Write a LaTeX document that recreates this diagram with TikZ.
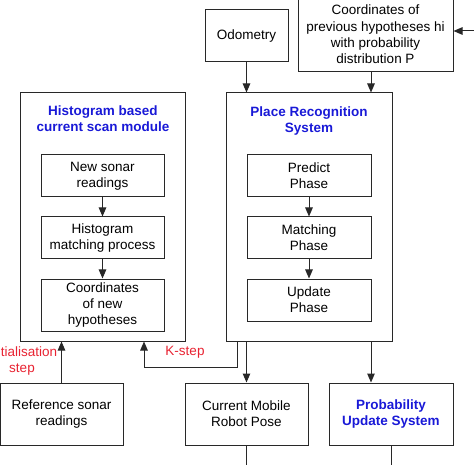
\documentclass[tikz,border=0pt]{standalone}
\usepackage{fontspec}
\setmainfont{Liberation Sans}
\usetikzlibrary{arrows.meta}
\definecolor{ttlblue}{RGB}{25,25,215}
\definecolor{lblred}{RGB}{232,35,50}
\definecolor{ln}{RGB}{40,40,40}
\tikzset{
  box/.style={draw=ln, line width=1pt, align=center, inner sep=0pt, font=\fontsize{13.5}{16.3}\selectfont},
  ttl/.style={align=center, text=ttlblue, font=\fontsize{13.5}{16.3}\selectfont\bfseries},
  lbl/.style={align=center, text=lblred, font=\fontsize{13.5}{16.3}\selectfont},
  arr/.style={draw=ln, line width=1pt, -{Triangle[length=9pt,width=7.5pt]}},
  ln/.style={draw=ln, line width=1pt}
}
\begin{document}
\begin{tikzpicture}[x=1pt,y=-1pt]
\useasboundingbox (0,0) rectangle (474,465);
\clip (0,0) rectangle (474,465);
% top
\node[box, minimum width=83pt, minimum height=52pt] (odo) at (246.5,36) {Odometry};
\node[box, minimum width=155pt, minimum height=75pt] (prev) at (375.5,34.5) {Coordinates of\\previous hypotheses hi\\with probability\\distribution P};
% histogram module
\node[box, minimum width=165pt, minimum height=248pt] (hist) at (102.5,217) {};
\node[ttl] (histttl) at (103,119) {Histogram based\\current scan module};
\node[box, minimum width=123pt, minimum height=42pt] (nsr) at (102.5,176) {New sonar\\readings};
\node[box, minimum width=123pt, minimum height=42pt] (hmp) at (102.5,238) {Histogram\\matching process};
\node[box, minimum width=123pt, minimum height=52pt] (cnh) at (102.5,305) {Coordinates\\of new\\hypotheses};
% place recognition
\node[box, minimum width=166pt, minimum height=248pt] (prs) at (309,217) {};
\node[ttl] (prsttl) at (309,121) {Place Recognition\\System};
\node[box, minimum width=124pt, minimum height=42pt] (pp) at (309,176) {Predict\\Phase};
\node[box, minimum width=124pt, minimum height=42pt] (mp) at (309,238) {Matching\\Phase};
\node[box, minimum width=124pt, minimum height=42pt] (up) at (309,300) {Update\\Phase};
% bottom
\node[box, minimum width=123pt, minimum height=62pt] (ref) at (61.5,414) {Reference sonar\\readings};
\node[box, minimum width=123pt, minimum height=62pt] (cur) at (246.5,414) {Current Mobile\\Robot Pose};
\node[box, minimum width=124pt, minimum height=62pt] (pus) at (391,414) {};
\node[ttl] (pusttl) at (391,414) {Probability\\Update System};
% labels
\node[lbl] (init) at (22,361) {Initialisation\\step};
\node[lbl] (kstep) at (185,352) {K-step};
% coordinates
\coordinate (inR) at (480,31);
\coordinate (k1) at (237,367);
\coordinate (k2) at (144,367);
\coordinate (curend) at (246.5,470);
\coordinate (pusend) at (391,470);
% connectors
\draw[arr] (inR) -- (prev.east |- inR);
\draw[arr] (odo.south) -- (odo.south |- prs.north);
\draw[arr] (prs.north -| 371,0) ++(0,-21) -- (prs.north -| 371,0);
\draw[arr] (nsr) -- (hmp);
\draw[arr] (hmp) -- (cnh);
\draw[arr] (pp) -- (mp);
\draw[arr] (mp) -- (up);
\draw[arr] (ref.north) -- (ref.north |- hist.south);
\draw[arr] (prs.south -| k1) -- (k1) -- (k2) -- (k2 |- hist.south);
\draw[arr] (prs.south -| cur.north) -- (cur.north);
\draw[arr] (prs.south -| 371,0) -- (pus.north -| 371,0);
\draw[ln] (cur.south) -- (curend);
\draw[ln] (pus.south) -- (pusend);
\end{tikzpicture}
\end{document}
